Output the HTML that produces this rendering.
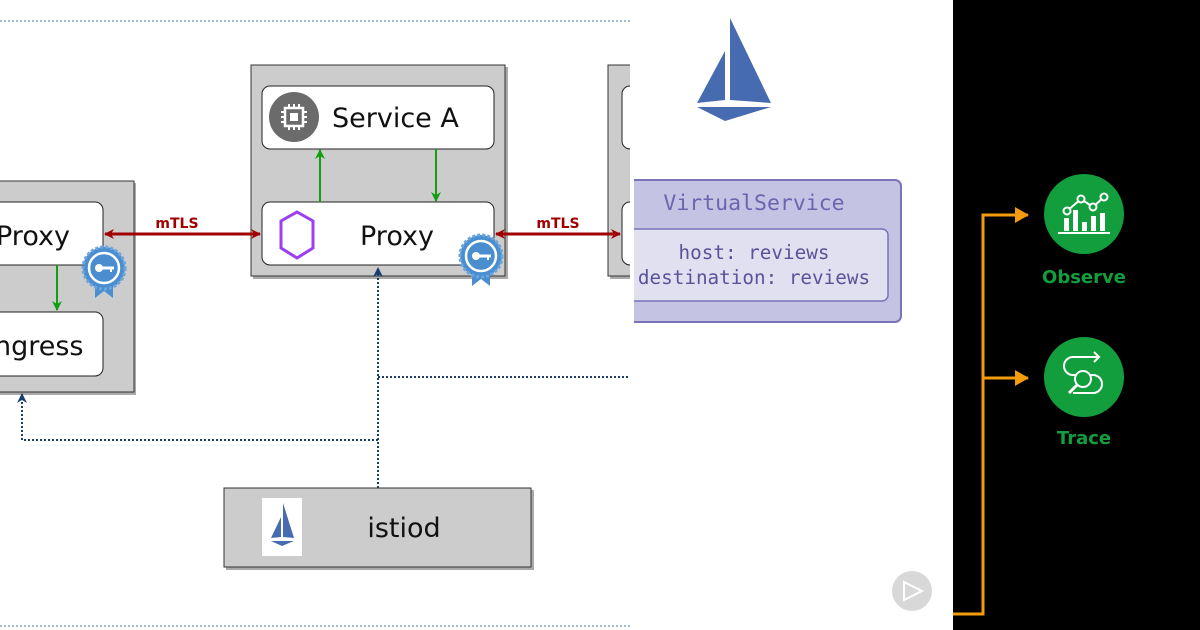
<!DOCTYPE html>
<html><head><meta charset="utf-8"><style>
html,body{margin:0;padding:0;width:1200px;height:630px;overflow:hidden;background:#fff}
svg{display:block}
</style></head><body>
<svg width="1200" height="630" viewBox="0 0 1200 630" xmlns="http://www.w3.org/2000/svg" font-family="'DejaVu Sans','Liberation Sans',sans-serif">
<defs>
<clipPath id="lc"><rect x="0" y="0" width="630" height="630"/></clipPath>
<clipPath id="vc"><rect x="634" y="0" width="300" height="630"/></clipPath>
<marker id="rh" markerWidth="10" markerHeight="10" refX="9" refY="5" orient="auto-start-reverse" markerUnits="userSpaceOnUse"><path d="M0,0 L10,5 L0,10 L3,5z" fill="#a00000"/></marker>
<marker id="gh" markerWidth="10" markerHeight="10" refX="9" refY="5" orient="auto" markerUnits="userSpaceOnUse"><path d="M0,0 L10,5 L0,10 L3,5z" fill="#129e12"/></marker>
<marker id="bh" markerWidth="10" markerHeight="10" refX="9" refY="5" orient="auto" markerUnits="userSpaceOnUse"><path d="M0,0 L10,5 L0,10 L3,5z" fill="#1a3c6e"/></marker>
<marker id="oh" markerWidth="14" markerHeight="16" refX="13" refY="8" orient="auto" markerUnits="userSpaceOnUse"><path d="M0,0 L14,8 L0,16z" fill="#f29b0c"/></marker>
<g id="badge">
<path d="M-9,8 L-9,30 L0,23 L9,30 L9,8z" fill="#4a8ed0"/>
<circle r="21" fill="#4a8ed0" stroke="#6aa5dd" stroke-width="3" stroke-dasharray="3 2"/>
<circle r="15" fill="#4a8ed0" stroke="#fff" stroke-width="2.5"/>
<circle cx="-5" cy="0" r="4" fill="#fff"/><rect x="-2" y="-1.5" width="12" height="3" fill="#fff"/><rect x="6" y="0" width="2" height="4" fill="#fff"/>
</g>
</defs>
<g clip-path="url(#lc)">
<line x1="0" y1="21" x2="630" y2="21" stroke="#6c8fb0" stroke-dasharray="2 2" stroke-width="1.2"/>
<line x1="0" y1="626" x2="630" y2="626" stroke="#6c8fb0" stroke-dasharray="2 2" stroke-width="1.2"/>
<rect x="-5" y="183" width="141" height="212" fill="#aaa"/>
<rect x="-5" y="181" width="139" height="211" fill="#ccc" stroke="#333" stroke-width="1"/>
<rect x="-10" y="202" width="113" height="63" rx="8" fill="#fff" stroke="#222"/>
<text x="-4" y="245" font-size="27" fill="#111">Proxy</text>
<rect x="-10" y="312" width="113" height="64" rx="8" fill="#fff" stroke="#222"/>
<text x="-6" y="355" font-size="27" fill="#111">ngress</text>
<line x1="57" y1="265" x2="57" y2="310" stroke="#129e12" stroke-width="2" marker-end="url(#gh)"/>
<use href="#badge" x="104" y="268"/>
<rect x="253" y="67" width="255" height="212" fill="#aaa"/>
<rect x="251" y="65" width="254" height="211" fill="#ccc" stroke="#333"/>
<rect x="262" y="86" width="232" height="63" rx="8" fill="#fff" stroke="#222"/>
<circle cx="294" cy="117" r="25" fill="#6b6b6b"/>
<rect x="285" y="108" width="18" height="18" fill="none" stroke="#fff" stroke-width="2.5"/>
<rect x="290" y="113" width="8" height="8" fill="#fff"/>
<path d="M289,104v4M294,104v4M299,104v4M289,126v4M294,126v4M299,126v4M281,112h4M281,117h4M281,122h4M303,112h4M303,117h4M303,122h4" stroke="#fff" stroke-width="2"/>
<text x="332" y="127" font-size="27" fill="#111">Service A</text>
<rect x="262" y="202" width="232" height="63" rx="8" fill="#fff" stroke="#222"/>
<path d="M297,212 L313,221 L313,248 L297,258 L281,248 L281,221z" fill="none" stroke="#9b3ff0" stroke-width="3"/>
<text x="360" y="245" font-size="27" fill="#111">Proxy</text>
<line x1="320" y1="202" x2="320" y2="150" stroke="#129e12" stroke-width="2" marker-end="url(#gh)"/>
<line x1="436" y1="149" x2="436" y2="201" stroke="#129e12" stroke-width="2" marker-end="url(#gh)"/>
<use href="#badge" x="481" y="256"/>
<rect x="610" y="67" width="60" height="212" fill="#aaa"/>
<rect x="608" y="65" width="60" height="211" fill="#ccc" stroke="#333"/>
<rect x="622" y="86" width="60" height="63" rx="8" fill="#fff" stroke="#222"/>
<rect x="622" y="202" width="60" height="63" rx="8" fill="#fff" stroke="#222"/>
<line x1="105" y1="234" x2="260" y2="234" stroke="#a00000" stroke-width="3" marker-start="url(#rh)" marker-end="url(#rh)"/>
<text x="177" y="228" font-size="14" font-weight="bold" fill="#a00000" text-anchor="middle">mTLS</text>
<line x1="496" y1="234" x2="620" y2="234" stroke="#a00000" stroke-width="3" marker-start="url(#rh)" marker-end="url(#rh)"/>
<text x="558" y="228" font-size="14" font-weight="bold" fill="#a00000" text-anchor="middle">mTLS</text>
<line x1="378" y1="488" x2="378" y2="268" stroke="#1a3c6e" stroke-width="2" stroke-dasharray="2 2" marker-end="url(#bh)"/>
<polyline points="378,440 22,440 22,394" fill="none" stroke="#1a3c6e" stroke-width="2" stroke-dasharray="2 2" marker-end="url(#bh)"/>
<line x1="378" y1="377" x2="630" y2="377" stroke="#1a3c6e" stroke-width="2" stroke-dasharray="2 2"/>
<rect x="226" y="490" width="308" height="80" fill="#aaa"/>
<rect x="224" y="488" width="307" height="79" fill="#ccc" stroke="#333"/>
<rect x="262" y="498" width="40" height="58" fill="#fff"/>
<path d="M283,503 L294,538 L283,537z M281,517 L281,537 L271,538z M271,541 L294,541 L282,546z" fill="#466bb0"/>
<text x="404" y="537" font-size="27" fill="#111" text-anchor="middle">istiod</text>
</g>
<path d="M730,18 L771,103 L730,100z M725,51 L725,100 L697,103z M697,107 L771,107 L725,121z" fill="#466bb0"/>
<g clip-path="url(#vc)">
<rect x="620" y="180" width="281" height="142" rx="6" fill="#c5c3e3" stroke="#7b73b8" stroke-width="2"/>
<rect x="615" y="229" width="273" height="72" rx="6" fill="#e1e0f1" stroke="#7b73b8" stroke-width="1.5"/>
</g>
<text x="754" y="210" font-family="'DejaVu Sans Mono','Liberation Mono',monospace" font-size="21.5" fill="#6d64b0" text-anchor="middle">VirtualService</text>
<text x="754" y="259" font-family="'DejaVu Sans Mono','Liberation Mono',monospace" font-size="19.3" fill="#5a5299" text-anchor="middle">host: reviews</text>
<text x="754" y="284" font-family="'DejaVu Sans Mono','Liberation Mono',monospace" font-size="19.3" fill="#5a5299" text-anchor="middle">destination: reviews</text>
<circle cx="912" cy="591" r="20" fill="#d8d8d8"/>
<path d="M904,582 L922,591 L904,600z" fill="none" stroke="#fff" stroke-width="2"/>
<rect x="953" y="0" width="247" height="630" fill="#000"/>
<polyline points="953,614 983,614 983,215 1028,215" fill="none" stroke="#f29b0c" stroke-width="3" marker-end="url(#oh)"/>
<line x1="983" y1="378" x2="1028" y2="378" stroke="#f29b0c" stroke-width="3" marker-end="url(#oh)"/>
<circle cx="1084" cy="214" r="40" fill="#129e3c"/>
<path d="M1067,211 l14,-12 l12,8 l11,-10" fill="none" stroke="#fff" stroke-width="2"/>
<circle cx="1067" cy="211" r="3.5" fill="#129e3c" stroke="#fff" stroke-width="2"/>
<circle cx="1081" cy="199" r="3.5" fill="#129e3c" stroke="#fff" stroke-width="2"/>
<circle cx="1093" cy="207" r="3.5" fill="#129e3c" stroke="#fff" stroke-width="2"/>
<circle cx="1104" cy="197" r="3.5" fill="#129e3c" stroke="#fff" stroke-width="2"/>
<path d="M1064,218h5v13h-5z M1073,210h5v21h-5z M1082,222h5v9h-5z M1091,216h5v15h-5z M1100,213h5v18h-5z" fill="#fff"/>
<line x1="1058" y1="233" x2="1110" y2="233" stroke="#fff" stroke-width="2"/>
<text x="1084" y="283" font-size="18" font-weight="bold" fill="#129e3c" text-anchor="middle">Observe</text>
<circle cx="1084" cy="377" r="40" fill="#129e3c"/>
<path d="M1098,357 h-25 a9,9 0 0 0 0,18 h20 a9,9 0 0 1 0,18 h-20" fill="none" stroke="#fff" stroke-width="2"/>
<path d="M1094,352 l5,5 l-5,5" fill="none" stroke="#fff" stroke-width="2"/>
<circle cx="1083" cy="379" r="8" fill="#129e3c" stroke="#fff" stroke-width="2"/>
<line x1="1077" y1="385" x2="1069" y2="393" stroke="#fff" stroke-width="3"/>
<text x="1084" y="444" font-size="18" font-weight="bold" fill="#129e3c" text-anchor="middle">Trace</text>
</svg>
</body></html>
